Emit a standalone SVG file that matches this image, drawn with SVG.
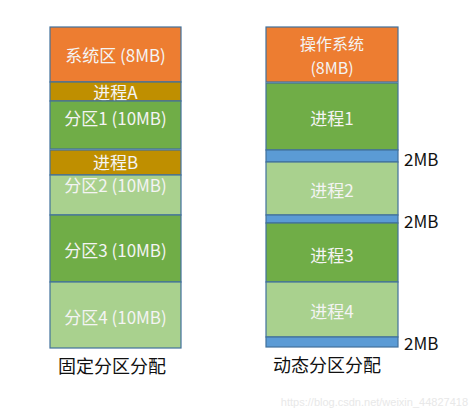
<svg xmlns="http://www.w3.org/2000/svg" width="474" height="413" viewBox="0 0 474 413">
<style>
.b{stroke:#41719C;stroke-width:1.2}
.os{fill:#ED7D31}.pr{fill:#BF8F00}.dg{fill:#70AD47}.lg{fill:#A9D18E}.bl{fill:#5B9BD5}
.t{font-family:"Noto Sans CJK SC","Liberation Sans",sans-serif;font-size:17px;fill:#F4F4F4;text-anchor:middle;dominant-baseline:central}
.k{font-family:"Noto Sans CJK SC","Liberation Sans",sans-serif;font-size:17px;fill:#111;dominant-baseline:central}
.c{font-size:18px}
.s{font-size:16px}
.w{font-family:"Liberation Sans",sans-serif;font-size:11px;fill:#E8E8E8;text-anchor:end}
</style>
<rect width="474" height="413" fill="#fff"/>
<g id="fixed">
<g id="sys"><rect class="b os" x="50" y="27" width="131" height="55"/><text class="t" x="115.5" y="54">系统区 (8MB)</text></g>
<g id="pA"><rect class="b pr" x="50" y="82" width="131" height="19"/><text class="t" x="115.5" y="91">进程A</text></g>
<g id="p1"><rect class="b dg" x="50" y="101" width="131" height="48"/><text class="t" x="115.5" y="117">分区1 (10MB)</text></g>
<g id="pB"><rect class="b pr" x="50" y="150" width="131" height="25"/><text class="t" x="115.5" y="161">进程B</text></g>
<g id="p2"><rect class="b lg" x="50" y="175" width="131" height="40"/><text class="t" x="115.5" y="184">分区2 (10MB)</text></g>
<g id="p3"><rect class="b dg" x="50" y="215" width="131" height="67"/><text class="t" x="115.5" y="249">分区3 (10MB)</text></g>
<g id="p4"><rect class="b lg" x="50" y="282" width="131" height="66"/><text class="t" x="115.5" y="316">分区4 (10MB)</text></g>
<text class="k c" x="58" y="365">固定分区分配</text>
</g>
<g id="dynamic">
<g id="os"><rect class="b os" x="266" y="27" width="132" height="55"/><text class="t s" x="332" y="43">操作系统</text><text class="t s" x="332" y="67">(8MB)</text></g>
<g id="j1"><rect class="b dg" x="266" y="83" width="132" height="67"/><text class="t" x="332" y="117">进程1</text></g>
<g id="f1"><rect class="b bl" x="266" y="150" width="132" height="12"/></g>
<g id="j2"><rect class="b lg" x="266" y="162" width="132" height="53"/><text class="t" x="332" y="189">进程2</text></g>
<g id="f2"><rect class="b bl" x="266" y="215" width="132" height="8"/></g>
<g id="j3"><rect class="b dg" x="266" y="223" width="132" height="59"/><text class="t" x="332" y="254">进程3</text></g>
<g id="j4"><rect class="b lg" x="266" y="282" width="132" height="55"/><text class="t" x="332" y="310">进程4</text></g>
<g id="f3"><rect class="b bl" x="266" y="337" width="132" height="10"/></g>
<text class="k" x="404" y="158">2MB</text>
<text class="k" x="404" y="220">2MB</text>
<text class="k" x="404" y="342">2MB</text>
<text class="k c" x="273" y="364">动态分区分配</text>
</g>
<text class="w" x="468" y="406">https://blog.csdn.net/weixin_44827418</text>
</svg>
